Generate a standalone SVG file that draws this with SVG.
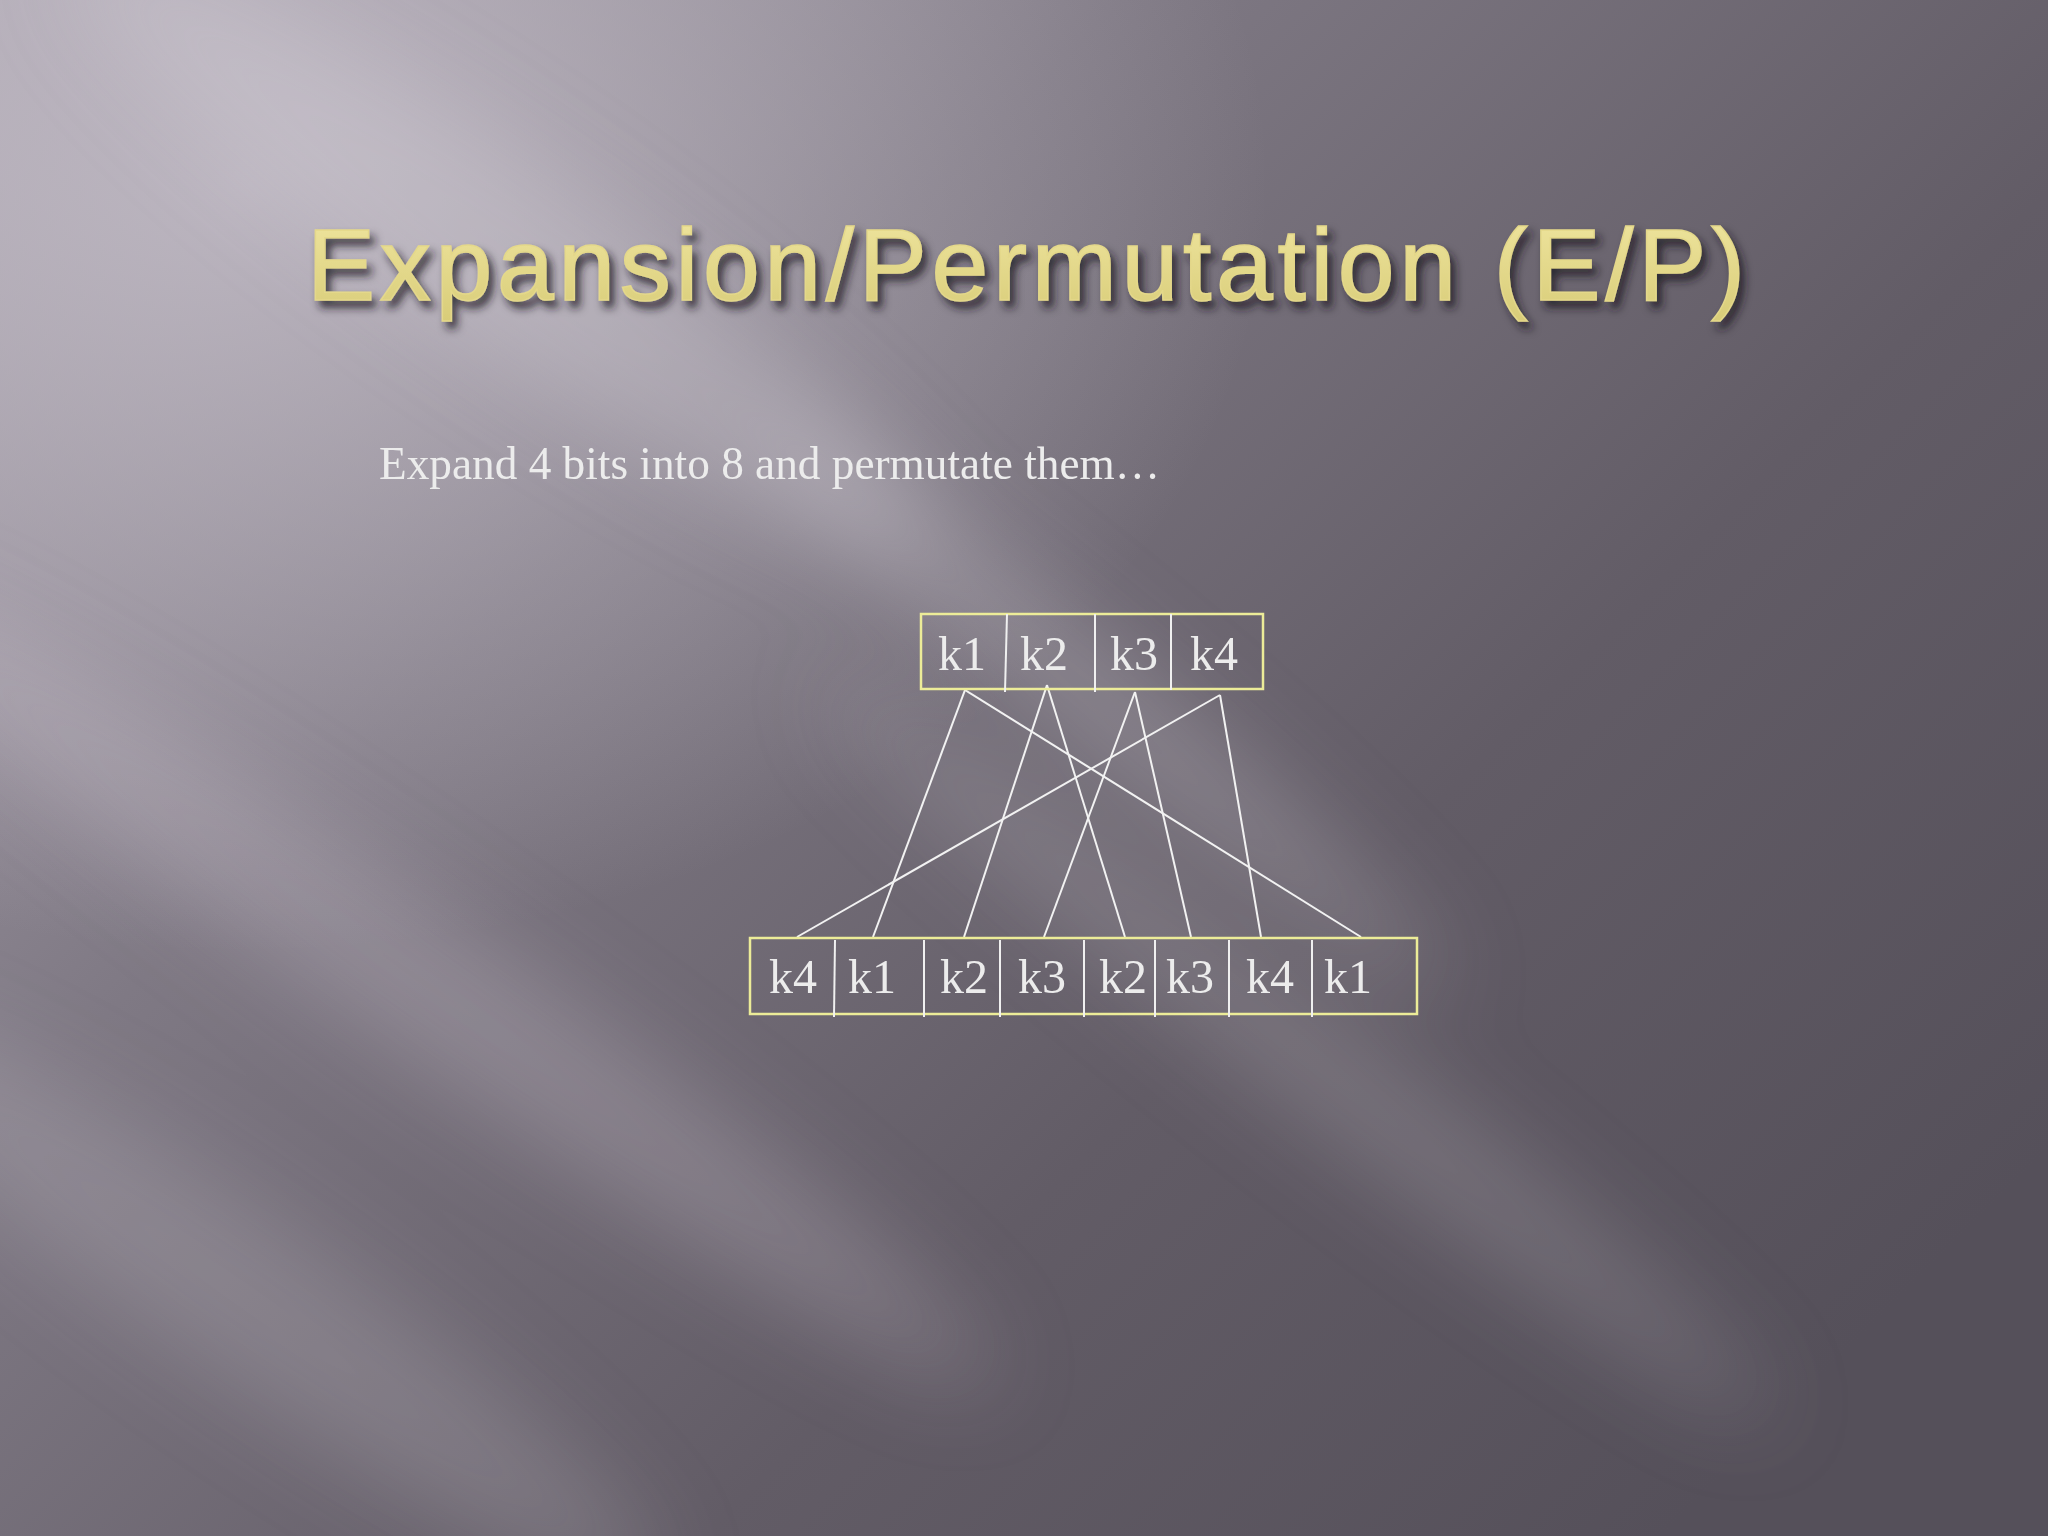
<svg xmlns="http://www.w3.org/2000/svg" width="2048" height="1536" viewBox="0 0 2048 1536">
  <defs>
    <linearGradient id="bg" x1="0" y1="0" x2="1" y2="0.75">
      <stop offset="0" stop-color="#aaa3ae"/>
      <stop offset="0.35" stop-color="#7f7984"/>
      <stop offset="0.7" stop-color="#625c66"/>
      <stop offset="1" stop-color="#55505a"/>
    </linearGradient>
    <radialGradient id="glow" cx="0.12" cy="0.12" r="0.5">
      <stop offset="0" stop-color="#c4bec8" stop-opacity="0.8"/>
      <stop offset="1" stop-color="#c4bec8" stop-opacity="0"/>
    </radialGradient>
    <filter id="blur" x="-50%" y="-50%" width="200%" height="200%">
      <feGaussianBlur stdDeviation="45"/>
    </filter>
    <filter id="shadow" x="-5%" y="-20%" width="110%" height="150%">
      <feGaussianBlur in="SourceAlpha" stdDeviation="4"/>
      <feOffset dx="5" dy="7" result="b"/>
      <feFlood flood-color="#1e1a22" flood-opacity="0.8"/>
      <feComposite in2="b" operator="in"/>
      <feMerge>
        <feMergeNode/>
        <feMergeNode in="SourceGraphic"/>
      </feMerge>
    </filter>
    <linearGradient id="titleFill" x1="0" y1="0" x2="0" y2="1">
      <stop offset="0" stop-color="#f0e6a0"/>
      <stop offset="1" stop-color="#d8cc78"/>
    </linearGradient>
    <style>
      .box { fill: none; stroke: #ecec98; stroke-width: 2.5; }
      .div { stroke: #f0f0f0; stroke-width: 2; }
      .lbl { font-family: "Liberation Serif", "Times New Roman", serif; font-size: 48px; fill: #ececec; text-anchor: middle; }
      .conn line { stroke: #f2f2f2; stroke-width: 2; }
    </style>
  </defs>

  <rect x="0" y="0" width="2048" height="1536" fill="url(#bg)"/>
  <rect x="0" y="0" width="2048" height="1536" fill="url(#glow)"/>
  <g filter="url(#blur)" fill="#d6d0da">
    <ellipse cx="500" cy="250" rx="520" ry="90" transform="rotate(35 500 250)" opacity="0.3"/>
    <ellipse cx="420" cy="980" rx="700" ry="70" transform="rotate(35 420 980)" opacity="0.25"/>
    <ellipse cx="1300" cy="1050" rx="600" ry="50" transform="rotate(38 1300 1050)" opacity="0.22"/>
    <ellipse cx="1100" cy="700" rx="450" ry="45" transform="rotate(40 1100 700)" opacity="0.3"/>
    <ellipse cx="250" cy="1300" rx="500" ry="80" transform="rotate(35 250 1300)" opacity="0.2"/>
  </g>

  <text x="307" y="300" font-family="'Liberation Sans', Arial, sans-serif" font-size="102" fill="url(#titleFill)" stroke="#e4d88a" stroke-width="1.5" textLength="1438" lengthAdjust="spacing" filter="url(#shadow)">Expansion/Permutation (E/P)</text>

  <text x="379" y="479" font-family="'Liberation Serif', 'Times New Roman', serif" font-size="46" fill="#ececec" textLength="781" lengthAdjust="spacingAndGlyphs">Expand 4 bits into 8 and permutate them…</text>

  <g id="connectors" class="conn">
    <line x1="965" y1="690" x2="873" y2="937"/>
    <line x1="965" y1="690" x2="1361" y2="937"/>
    <line x1="1047" y1="685" x2="964" y2="937"/>
    <line x1="1047" y1="685" x2="1125" y2="937"/>
    <line x1="1135" y1="692" x2="1044" y2="937"/>
    <line x1="1135" y1="692" x2="1191" y2="937"/>
    <line x1="1220" y1="695" x2="797" y2="937"/>
    <line x1="1220" y1="695" x2="1261" y2="937"/>
  </g>

  <g id="input-block">
    <rect class="box" x="921" y="614" width="342" height="75"/>
    <line class="div" x1="1007" y1="614" x2="1005" y2="692"/>
    <line class="div" x1="1095" y1="614" x2="1095" y2="692"/>
    <line class="div" x1="1171" y1="614" x2="1171" y2="690"/>
    <text class="lbl" x="962" y="670">k1</text>
    <text class="lbl" x="1044" y="670">k2</text>
    <text class="lbl" x="1134" y="670">k3</text>
    <text class="lbl" x="1214" y="670">k4</text>
  </g>

  <g id="output-block">
    <rect class="box" x="750" y="938" width="667" height="76"/>
    <line class="div" x1="835" y1="940" x2="834" y2="1017"/>
    <line class="div" x1="924" y1="940" x2="924" y2="1017"/>
    <line class="div" x1="1000" y1="940" x2="1000" y2="1017"/>
    <line class="div" x1="1084" y1="940" x2="1084" y2="1017"/>
    <line class="div" x1="1155" y1="940" x2="1155" y2="1017"/>
    <line class="div" x1="1229" y1="940" x2="1229" y2="1017"/>
    <line class="div" x1="1312" y1="940" x2="1312" y2="1017"/>
    <text class="lbl" x="793" y="993">k4</text>
    <text class="lbl" x="872" y="993">k1</text>
    <text class="lbl" x="964" y="993">k2</text>
    <text class="lbl" x="1042" y="993">k3</text>
    <text class="lbl" x="1123" y="993">k2</text>
    <text class="lbl" x="1190" y="993">k3</text>
    <text class="lbl" x="1270" y="993">k4</text>
    <text class="lbl" x="1348" y="993">k1</text>
  </g>
</svg>
